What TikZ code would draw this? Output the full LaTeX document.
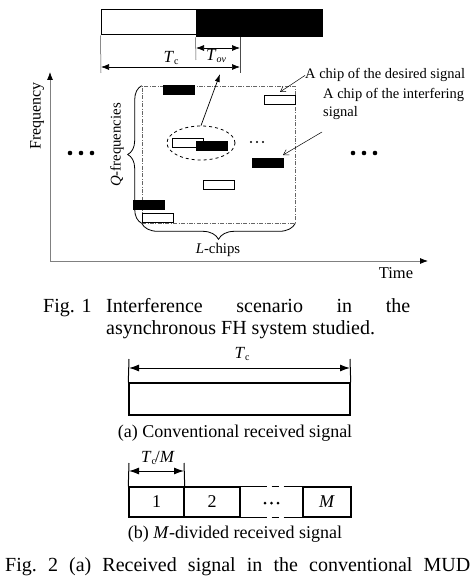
\documentclass[tikz,border=0pt]{standalone}
\usepackage{fontspec}
\setmainfont{Liberation Serif}
\usetikzlibrary{arrows.meta,shapes.geometric,decorations.pathreplacing}
\newcommand{\myfs}[2]{\fontsize{#1}{#2}\selectfont}
\newcommand{\mysub}[1]{\raisebox{-0.35ex}{\myfs{10}{10}#1}}
\begin{document}
\begin{tikzpicture}[x=1pt,y=-1pt,
  chip/.style={rectangle,draw=black,line width=0.8pt,inner sep=0pt,minimum width=31pt,minimum height=9pt},
  bchip/.style={chip,fill=black},
  wchip/.style={chip,fill=white},
  bar/.style={rectangle,draw=black,line width=1pt,inner sep=0pt},
  dimarr/.style={line width=0.7pt,{Latex[length=8pt,width=6pt]}-{Latex[length=8pt,width=6pt]}},
  dimarrb/.style={line width=1pt,{Latex[length=10pt,width=7pt]}-{Latex[length=10pt,width=7pt]}},
  extl/.style={line width=0.5pt,draw=gray!60!black},
  extlb/.style={line width=1pt,draw=black},
  axisl/.style={line width=0.8pt,draw=gray,-{Latex[length=8pt,width=6pt,color=black]}},
  pointer/.style={line width=0.5pt,-{Straight Barb[length=5pt,width=6pt]}},
  lbl/.style={inner sep=0pt,font=\myfs{14.5}{18}},
  cell/.style={rectangle,draw=black,line width=1.4pt,inner sep=0pt,minimum height=30pt,font=\myfs{18}{20}},
  txt/.style={inner sep=0pt}
]
\useasboundingbox (0,0) rectangle (474,577);
\fill[white] (0,0) rectangle (474,577);

% ---------- Fig. 1 ----------
% top bars
\node[bar,fill=white,minimum width=95pt,minimum height=25pt] (wbar) at (148.5,22.5) {};
\node[bar,fill=black,minimum width=126pt,minimum height=27pt] (bbar) at (259,23.5) {};
% extension lines
\coordinate (e1) at (101,73);
\coordinate (e2) at (196,60);
\coordinate (e3) at (240,73);
\draw[extl] (wbar.south west) -- (e1);
\draw[extl] (bbar.south west) -- (e2);
\draw[extl] (240,37) -- (e3);
\coordinate (tova) at (196,48);
\coordinate (tovb) at (240,48);
\coordinate (tca) at (101,67);
\coordinate (tcb) at (240,67);
\draw[dimarr] (tova) -- (tovb);
\draw[dimarr] (tca) -- (tcb);
\node[txt,font=\myfs{17}{18}] (tclbl) at (171,58) {\textit{T}\mysub{c}};
\node[txt,font=\myfs{17}{18}] (tovlbl) at (216,56) {\textit{T}\mysub{\textit{ov}}};

% axes
\coordinate (org) at (50,261);
\coordinate (ytop) at (50,72);
\coordinate (xend) at (428,261);
\draw[axisl] (org) -- (ytop);
\draw[axisl] (org) -- (xend);
\node[txt,font=\myfs{16}{18},rotate=90] (freq) at (37,116) {Frequency};
\node[txt,font=\myfs{16.5}{18}] (time) at (396,273) {Time};

% frame
\node[rectangle,draw=gray!80!black,line width=0.6pt,dash pattern=on 4pt off 1.5pt on 0.8pt off 1.5pt,
      minimum width=153pt,minimum height=137pt,inner sep=0pt] (frame) at (218.5,154.5) {};
% braces
\draw[line width=0.8pt,decorate,decoration={brace,amplitude=14pt}] (frame.south west) -- (frame.north west);
\draw[line width=0.8pt,decorate,decoration={brace,amplitude=16pt}] (frame.south east) -- (frame.south west);
\node[txt,font=\myfs{14.8}{18},rotate=90] (qlbl) at (117,145) {\textit{Q}-frequencies};
\node[txt,font=\myfs{14.8}{18}] (llbl) at (218,250) {\textit{L}-chips};

% chips
\node[bchip] (b1) at (179,89.5) {};
\node[wchip] (w1) at (279.5,100) {};
\node[wchip] (w2) at (188,142.5) {};
\node[bchip] (b2) at (211.5,145.5) {};
\node[bchip] (b3) at (267.5,162.5) {};
\node[wchip] (w3) at (218.5,184.5) {};
\node[bchip] (b4) at (148.5,204.5) {};
\node[wchip] (w4) at (157.5,218) {};

% ellipse
\node[ellipse,draw=black,dashed,line width=0.8pt,minimum width=68pt,minimum height=34pt,inner sep=0pt] (ell) at (201,143) {};
\coordinate (ellpt) at (220,74);
\draw[line width=0.7pt,-{Latex[length=8pt,width=5pt]}] (ell.north) -- (ellpt);

% dots
\fill (70,153) circle (2.3) (81,153) circle (2.3) (92,153) circle (2.3);
\fill (353,153) circle (2.3) (364,153) circle (2.3) (375,153) circle (2.3);
\fill (251,142) circle (1.2) (257,142) circle (1.2) (263,142) circle (1.2);

% labels with pointers
\node[lbl,anchor=base west] (deslbl) at (305,79) {A chip of the desired signal};
\coordinate (despt) at (280,92);
\draw[pointer] (deslbl.west) -- (despt);
\node[lbl,anchor=base west,align=left] (intlbl) at (323,117) {A chip of the interfering\\signal};
\coordinate (intst) at (322,132);
\coordinate (intpt) at (283,155);
\draw[pointer] (intst) -- (intpt);

% caption 1
\node[txt,font=\myfs{20}{22},anchor=base west] (f1a) at (43,312) {Fig. 1};
\node[txt,font=\myfs{20}{22},anchor=base west] (f1b) at (106,312) {\hbox to 304pt{Interference\hfill scenario\hfill in\hfill the}};
\node[txt,font=\myfs{20}{22},anchor=base west] (f1c) at (106,334) {asynchronous FH system studied.};

% ---------- Fig. 2 ----------
\node[rectangle,draw=black,line width=1.4pt,minimum width=221pt,minimum height=32pt,inner sep=0pt] (boxa) at (239.5,399) {};
\coordinate (ea1) at (129,359);
\coordinate (ea2) at (350,359);
\draw[extlb] (boxa.north west) -- (ea1);
\draw[extlb] (boxa.north east) -- (ea2);
\coordinate (da1) at (129,368);
\coordinate (da2) at (350,368);
\draw[dimarrb] (da1) -- (da2);
\node[txt,font=\myfs{17}{18}] (tc2) at (242,354) {\textit{T}\mysub{c}};
\node[txt,font=\myfs{18}{20},anchor=base] (capa) at (235,437) {(a) Conventional received signal};

% divided box
\node[cell,minimum width=55pt] (c1) at (156.5,502) {1};
\node[cell,minimum width=56pt] (c2) at (212,502) {2};
\node[cell,minimum width=48pt] (cm) at (327,502) {\textit{M}};
\node[txt] (c3) at (271.5,502) {};
\fill (265,503) circle (1.5) (271.5,503) circle (1.5) (278,503) circle (1.5);
\draw[line width=1.4pt,dash pattern=on 26pt off 5pt on 7pt off 5pt on 20pt] (c2.north east) -- (cm.north west);
\draw[line width=1.4pt,dash pattern=on 26pt off 5pt on 7pt off 5pt on 20pt] (c2.south east) -- (cm.south west);
\coordinate (eb1) at (129,463);
\coordinate (eb2) at (184,463);
\draw[extlb] (c1.north west) -- (eb1);
\draw[extlb] (c1.north east) -- (eb2);
\coordinate (db1) at (129,471);
\coordinate (db2) at (184,471);
\draw[dimarrb] (db1) -- (db2);
\node[txt,font=\myfs{17}{18},anchor=base] (tcm) at (158,462) {\textit{T}\mysub{c}\kern-1pt/\textit{M}};
\node[txt,font=\myfs{18}{20},anchor=base] (capb) at (235,538) {(b) \textit{M}-divided received signal};

% caption 2
\node[txt,font=\myfs{20}{22},anchor=base west] (f2) at (5,571) {\hbox to 465pt{Fig.\hfill 2\hfill (a)\hfill Received\hfill signal\hfill in\hfill the\hfill conventional\hfill MUD}};
\end{tikzpicture}
\end{document}
